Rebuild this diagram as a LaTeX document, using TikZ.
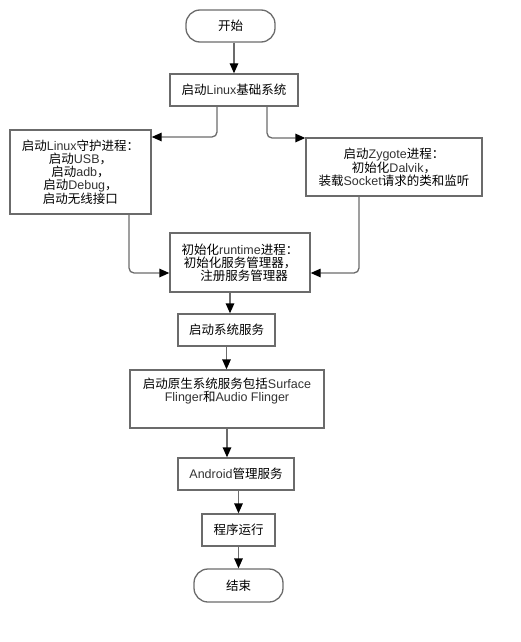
\documentclass[tikz,border=0pt]{standalone}
\usepackage{fontspec}
\setmainfont{Liberation Sans}
\newfontfamily\cjk{Noto Sans CJK SC}
\usetikzlibrary{arrows.meta}
\newcommand{\zh}[1]{{\cjk\color{black}#1}}

\begin{document}
\begin{tikzpicture}[x=1pt, y=-1pt,
    box/.style={draw=black!58, line width=1.3pt, inner sep=2pt, align=center,
        text=black!80, font=\fontsize{12.5}{13}\selectfont},
    term/.style={box, rounded corners=14pt},
    arrow/.style={draw=black!58, line width=1.3pt, rounded corners=5pt,
        -{Triangle[length=10pt, width=8.5pt, color=black]}}]
    \useasboundingbox (0,0) rectangle (521,642);

    \node[term, minimum width=89pt, minimum height=32pt] (start) at (230.5, 26) {\zh{开始}};
    \node[box, minimum width=128pt, minimum height=32pt] (linux) at (234, 90) {\zh{启动}Linux\zh{基础系统}};
    \node[box, minimum width=141pt, minimum height=84pt] (daemon) at (80.5, 172)
        {\zh{启动}Linux\zh{守护进程：}\\ \zh{启动}USB\zh{，}\\ \zh{启动}adb\zh{，}\\ \zh{启动}Debug\zh{，}\\ \zh{启动无线接口}};
    \node[box, minimum width=176pt, minimum height=58pt] (zygote) at (394, 167)
        {\zh{启动}Zygote\zh{进程：}\\ \zh{初始化}Dalvik\zh{，}\\ \zh{装载}Socket\zh{请求的类和监听}};
    \node[box, minimum width=140pt, minimum height=59pt] (runtime) at (240, 262.5)
        {\zh{初始化}runtime\zh{进程：}\\ \zh{初始化服务管理器，}\\ \hspace{8pt}\zh{注册服务管理器}};
    \node[box, minimum width=97pt, minimum height=32pt] (sysserv) at (226.5, 330) {\zh{启动系统服务}};
    \node[box, minimum width=194pt, minimum height=58pt,
        label={[align=center, anchor=north, yshift=-5pt, text=black!80,
            font=\fontsize{12.5}{13}\selectfont]north:\zh{启动原生系统服务包括}Surface\\ Flinger\zh{和}Audio Flinger}]
        (native) at (227, 399) {};
    \node[box, minimum width=116pt, minimum height=32pt] (android) at (236, 474) {Android\zh{管理服务}};
    \node[box, minimum width=73pt, minimum height=32pt] (run) at (238.5, 530) {\zh{程序运行}};
    \node[term, minimum width=89pt, minimum height=33pt] (end) at (238.5, 585.5) {\zh{结束}};

    \draw[arrow] (start.south -| linux) -- (linux.north);
    \draw[arrow] ([xshift=-17pt]linux.south) |- ([yshift=35pt]daemon.east);
    \draw[arrow] ([xshift=33pt]linux.south) |- ([yshift=29pt]zygote.west);
    \draw[arrow] ([xshift=48.5pt]daemon.south) |- ([yshift=-10.5pt]runtime.west);
    \draw[arrow] ([xshift=-35pt]zygote.south) |- ([yshift=-10.5pt]runtime.east);
    \draw[arrow] ([xshift=-10pt]runtime.south) -- ([xshift=-10pt]runtime.south |- sysserv.north);
    \draw[arrow] (sysserv.south) -- (sysserv.south |- native.north);
    \draw[arrow] (native.south) -- (native.south |- android.north);
    \draw[arrow] (android.south -| run) -- (run.north);
    \draw[arrow] (run) -- (end);
\end{tikzpicture}
\end{document}
